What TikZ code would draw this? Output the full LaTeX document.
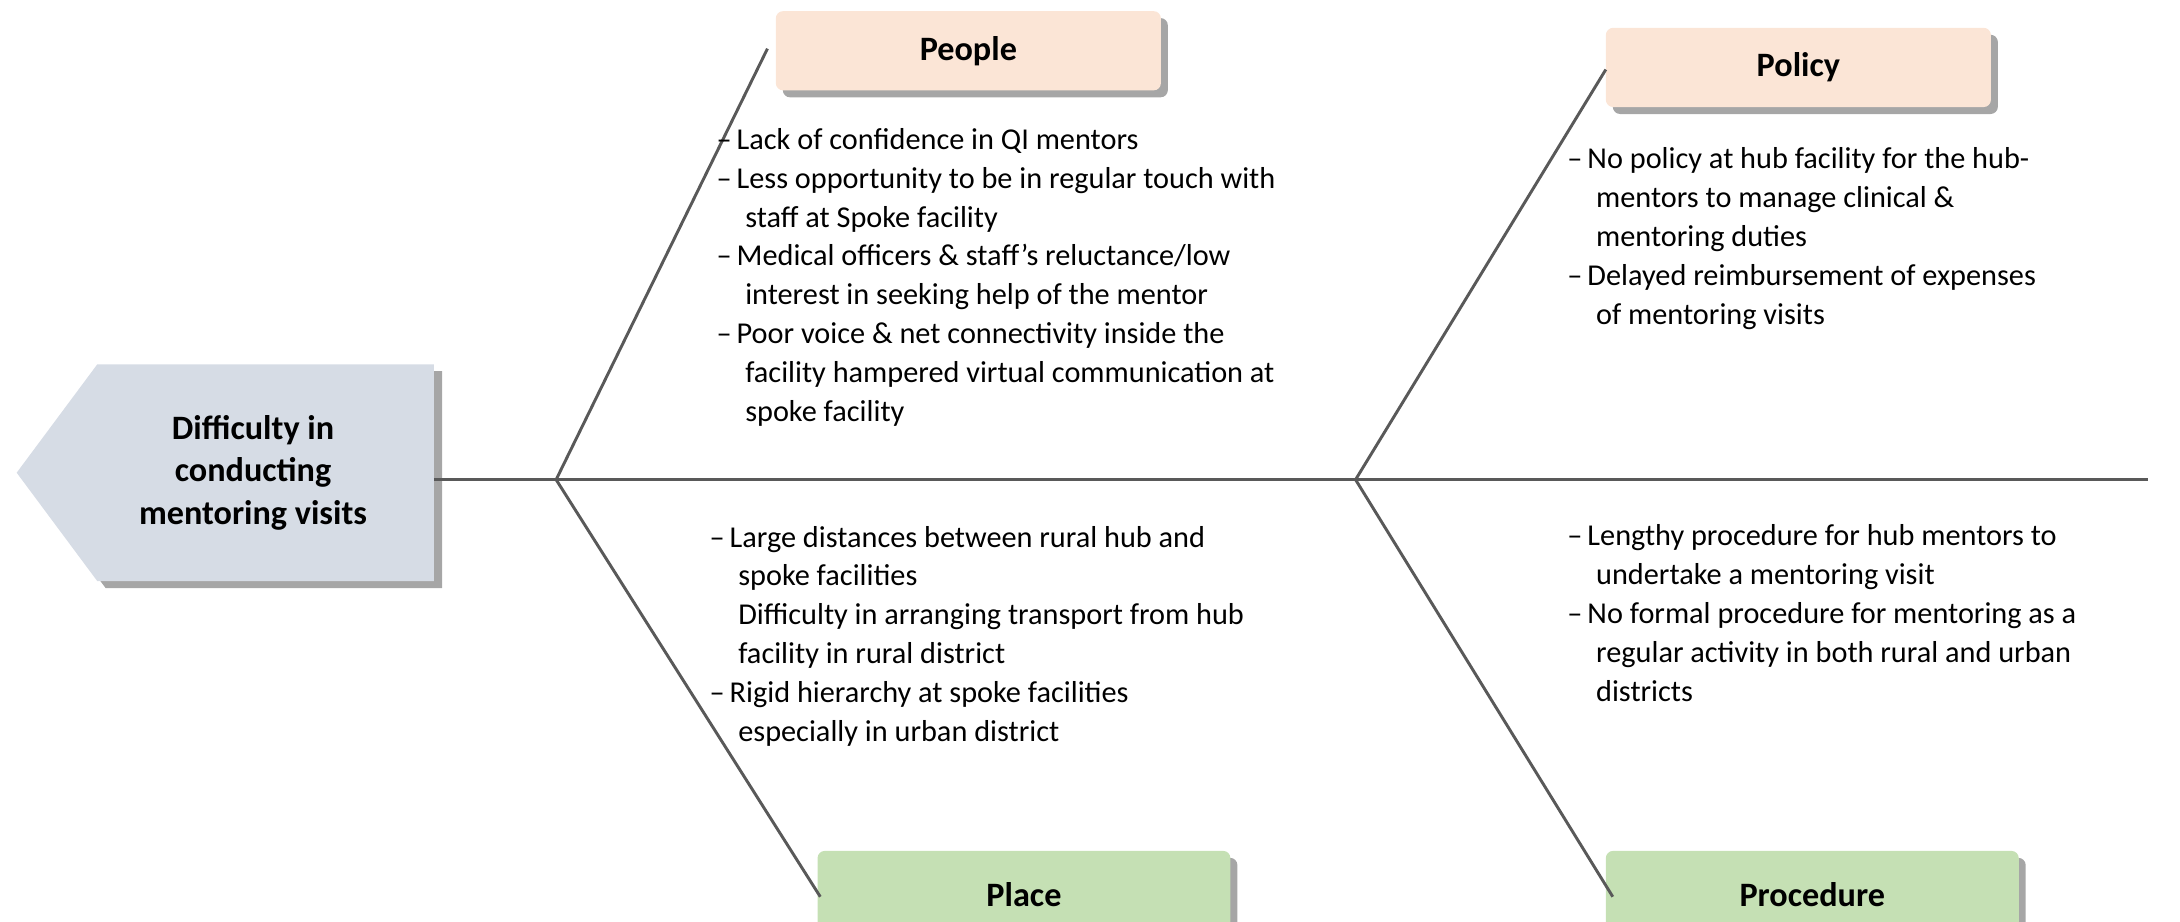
\documentclass[tikz,border=0pt]{standalone}
\usepackage{fontspec}
\setmainfont{Carlito}
\begin{document}
\begin{tikzpicture}[x=0.02cm,y=-0.02cm,
  bone/.style={draw=black!65,line width=1.2pt},
  cat/.style={font=\fontsize{14}{16}\selectfont\bfseries,anchor=center},
  txt/.style={anchor=north west,inner sep=0pt,align=left,font=\fontsize{12.4}{15.9}\selectfont},
  shadow/.style={fill=black!35}]
\useasboundingbox (0,0) rectangle (1568,663);
% head
\fill[shadow] (18,345) -- (76,267) -- (318,267) -- (318,423) -- (76,423) -- cycle;
\fill[fill={rgb,255:red,214;green,220;blue,229}] (12,340) -- (70,262) -- (312,262) -- (312,418) -- (70,418) -- cycle;
\node[align=center,font=\fontsize{14}{17.5}\selectfont\bfseries] (head) at (182,340) {Difficulty in\\conducting\\mentoring visits};
% spine
\coordinate (s0) at (312,345);
\coordinate (s1) at (400,345);
\coordinate (s2) at (975,345);
\coordinate (s3) at (1545,345);
\draw[bone] (s0) -- (s3);
% category boxes
\newcommand{\catbox}[6]{%
  \fill[shadow,rounded corners=3pt] (#1+5,#2+5) rectangle (#3+5,#4+5);
  \fill[fill=#6,rounded corners=3pt] (#1,#2) rectangle (#3,#4);
  \node[cat] (#5) at ({(#1+#3)/2},{(#2+#4)/2}) {#5};}
\definecolor{peach}{RGB}{251,229,214}
\definecolor{lgreen}{RGB}{197,224,180}
\catbox{558}{8}{835}{65}{People}{peach}
\catbox{1155}{20}{1432}{77}{Policy}{peach}
\catbox{588}{612}{885}{675}{Place}{lgreen}
\catbox{1155}{612}{1452}{675}{Procedure}{lgreen}
% bones
\coordinate (b1) at (552,35);
\coordinate (b2) at (590,645);
\coordinate (b3) at (1155,50);
\coordinate (b4) at (1160,645);
\draw[bone] (s1) -- (b1);
\draw[bone] (s1) -- (b2);
\draw[bone] (s2) -- (b3);
\draw[bone] (s2) -- (b4);
% texts
\newcommand{\ii}{\hspace*{0.95em}}
\node[txt] (tpeople) at (515,92) {%
–\,Lack of confidence in QI mentors\\
–\,Less opportunity to be in regular touch with\\
\ii staff at Spoke facility\\
–\,Medical officers \& staff’s reluctance/low\\
\ii interest in seeking help of the mentor\\
–\,Poor voice \& net connectivity inside the\\
\ii facility hampered virtual communication at\\
\ii spoke facility};
\node[txt] (tpolicy) at (1127,106) {%
–\,No policy at hub facility for the hub-\\
\ii mentors to manage clinical \&\\
\ii mentoring duties\\
–\,Delayed reimbursement of expenses\\
\ii of mentoring visits};
\node[txt] (tplace) at (510,378) {%
–\,Large distances between rural hub and\\
\ii spoke facilities\\
\ii Difficulty in arranging transport from hub\\
\ii facility in rural district\\
–\,Rigid hierarchy at spoke facilities\\
\ii especially in urban district};
\node[txt] (tproc) at (1127,377) {%
–\,Lengthy procedure for hub mentors to\\
\ii undertake a mentoring visit\\
–\,No formal procedure for mentoring as a\\
\ii regular activity in both rural and urban\\
\ii districts};
\end{tikzpicture}
\end{document}
